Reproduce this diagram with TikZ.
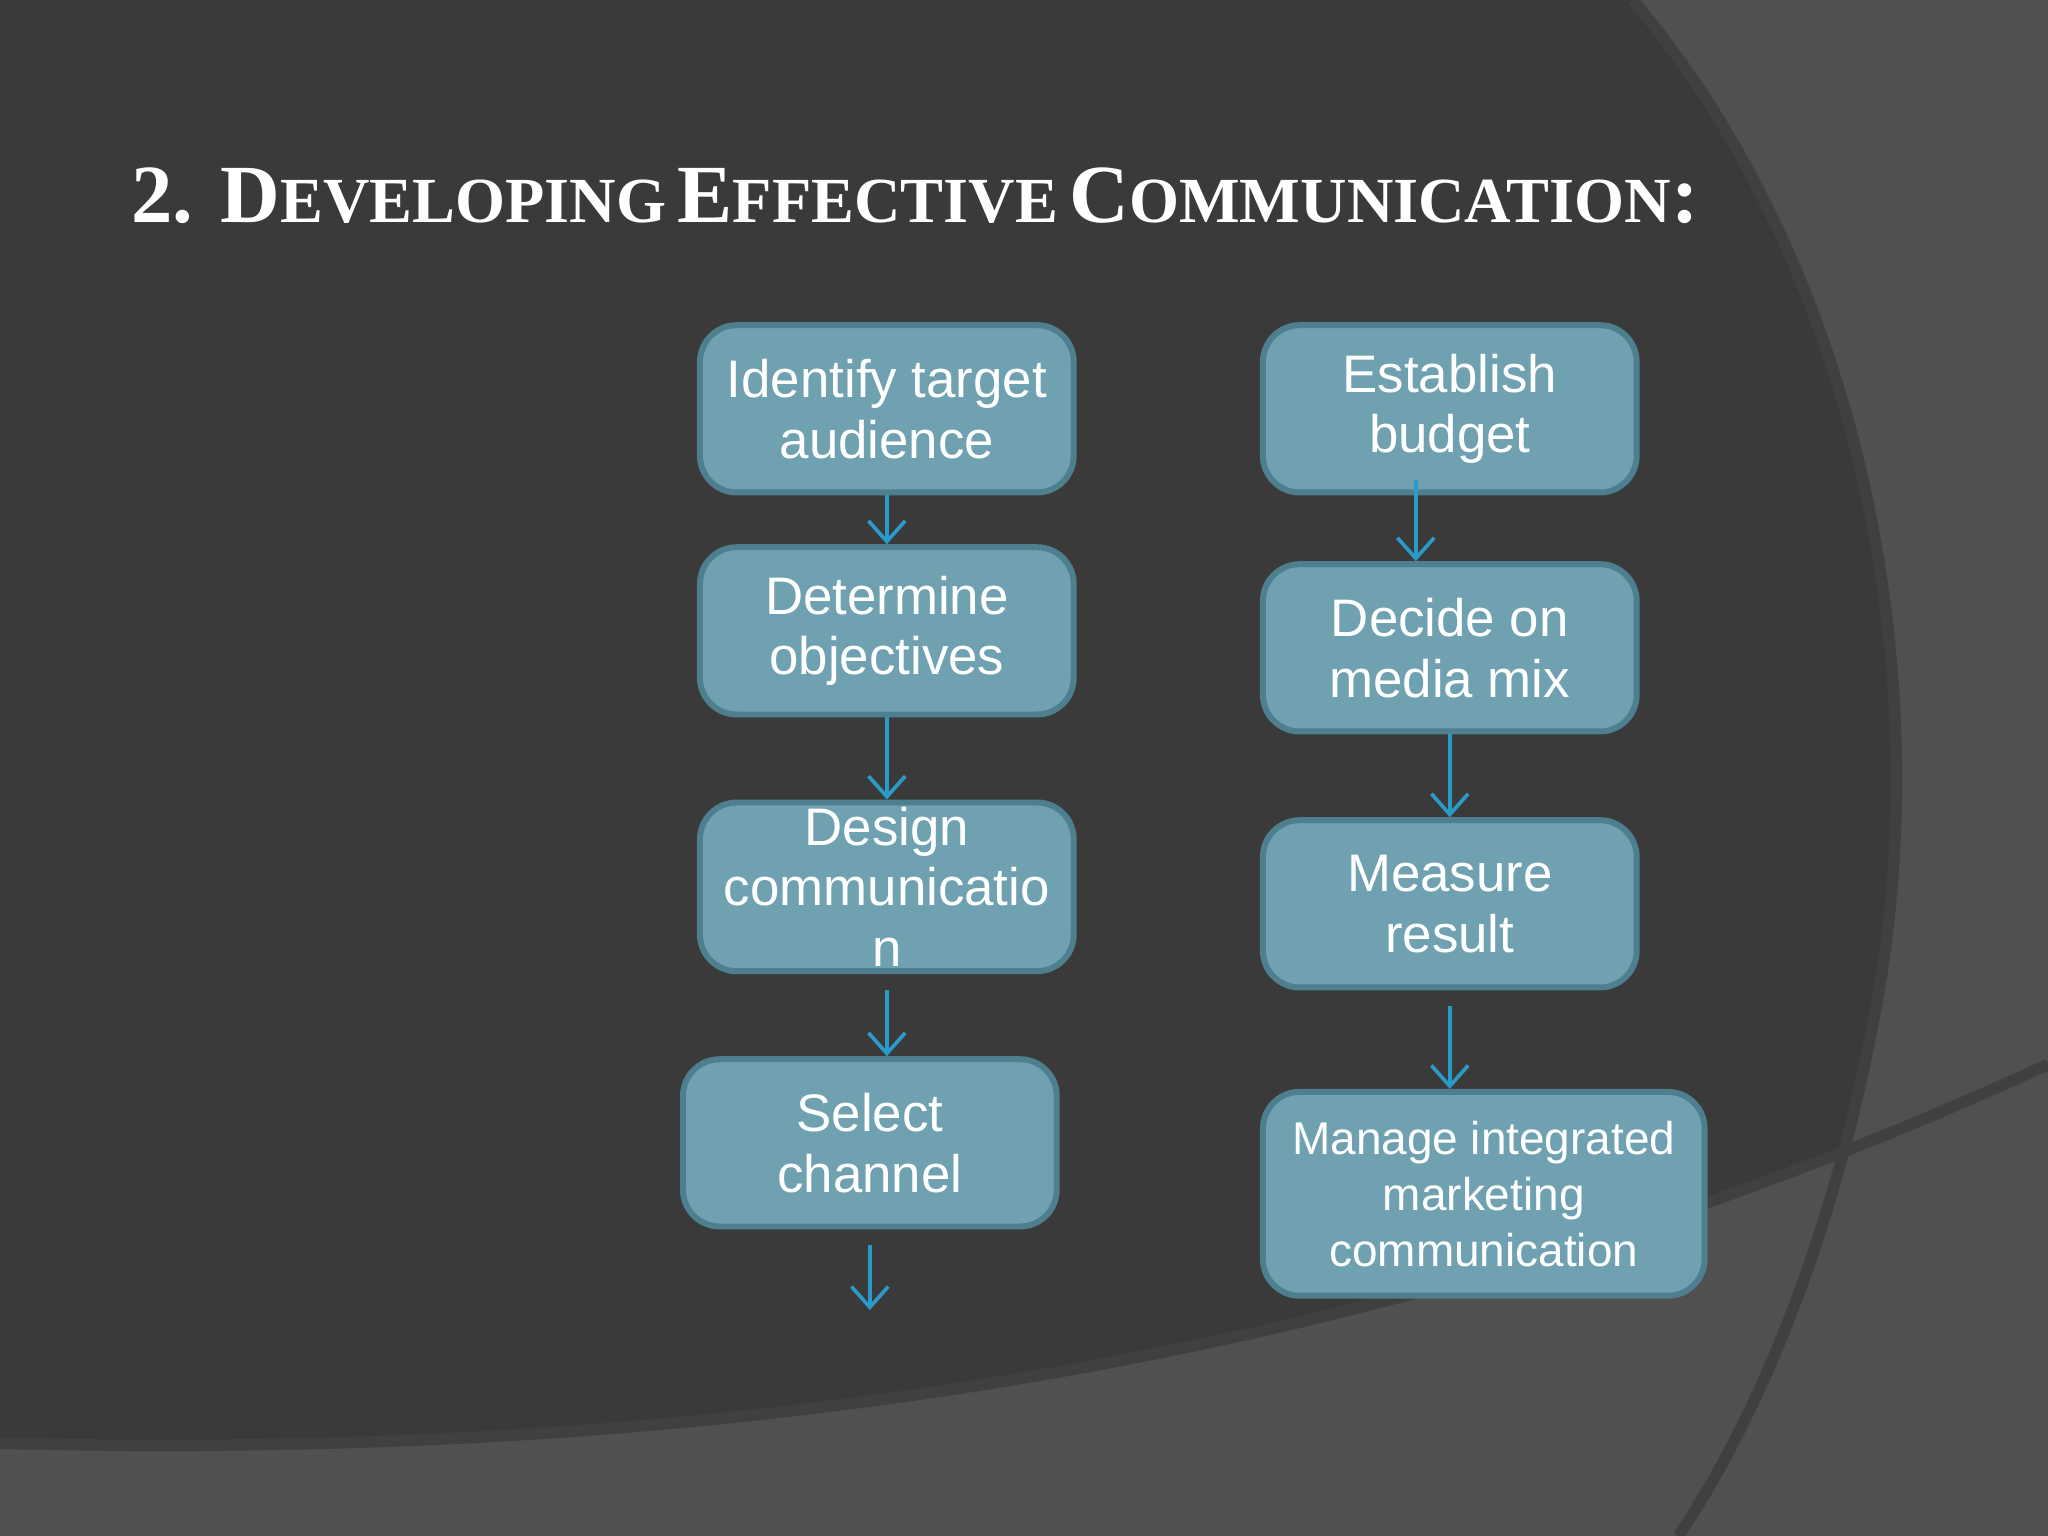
\documentclass[tikz,border=0pt]{standalone}
\usepackage{fontspec}
\setmainfont{Liberation Sans}
\newfontfamily\titlefont{Liberation Serif}
\usetikzlibrary{arrows.meta}
\definecolor{bgdark}{HTML}{3A3A3A}
\definecolor{bglight}{HTML}{505050}
\definecolor{boxfill}{HTML}{6FA1B1}
\definecolor{boxline}{HTML}{4E7F8E}
\definecolor{arr}{HTML}{2A9AC8}
\tikzset{
 stepbox/.style={draw=boxline,line width=1.3pt,fill=boxfill,rounded corners=8pt,
   minimum width=2.86cm,minimum height=1.28cm,align=center,text=white,
   font=\fontsize{11.5}{13.2}\selectfont,inner sep=1pt},
 conn/.style={draw=arr,line width=0.8pt,-{Straight Barb[length=4.5pt,width=8pt]}}
}
\newcommand{\tb}[1]{{\fontsize{18}{21}\selectfont #1}}
\newcommand{\ts}[1]{{\fontsize{14}{17}\selectfont #1}}
\begin{document}
\begin{tikzpicture}[x=0.01cm,y=-0.01cm]
\useasboundingbox (0,0) rectangle (1568,1176);
\fill[bgdark] (0,0) rectangle (1568,1176);
\fill[bglight] (0,1105) .. controls (600,1120) and (1100,1030) .. (1568,815) -- (1568,1176) -- (0,1176) -- cycle;
\fill[bglight] (1250,0) .. controls (1420,200) and (1480,500) .. (1440,750) .. controls (1410,930) and (1350,1080) .. (1285,1176) -- (1568,1176) -- (1568,0) -- cycle;
\draw[black!75,line width=2.5pt] (1250,0) .. controls (1420,200) and (1480,500) .. (1440,750) .. controls (1410,930) and (1350,1080) .. (1285,1176);
\draw[black!75,line width=2.5pt] (0,1105) .. controls (600,1120) and (1100,1030) .. (1568,815);
\node[anchor=west,text=white,font=\titlefont\bfseries] (title) at (88,150)
 {\tb{2. D}\ts{EVELOPING} \tb{E}\ts{FFECTIVE} \tb{C}\ts{OMMUNICATION}\tb{:}};
\node[stepbox] (a1) at (679,313) {Identify target\\audience};
\node[stepbox] (a2) at (679,483) {Determine\\objectives};
\node[stepbox] (a3) at (679,679) {Design\\communicatio\\n};
\node[stepbox] (a4) at (666,875) {Select\\channel};
\node[stepbox] (b1) at (1110,313) {Establish\\budget};
\node[stepbox] (b2) at (1110,496) {Decide on\\media mix};
\node[stepbox] (b3) at (1110,692) {Measure\\result};
\node[stepbox,minimum width=3.38cm,minimum height=1.56cm,font=\fontsize{10}{12.2}\selectfont] (b4) at (1136,914) {Manage integrated\\marketing\\communication};
\coordinate (end) at (666,1003);
\draw[conn] (a1.south) -- (a2.north);
\draw[conn] (a2.south) -- (a3.north);
\draw[conn] ([yshift=-0.12cm]a3.south) -- (a4.north -| a3.south);
\draw[conn] ([yshift=-0.12cm]a4.south) -- (end);
\draw[conn] ([xshift=-0.26cm,yshift=0.12cm]b1.south) -- ([xshift=-0.26cm]b2.north);
\draw[conn] (b2.south) -- (b3.north);
\draw[conn] ([yshift=-0.12cm]b3.south) -- (b4.north -| b3.south);
\end{tikzpicture}
\end{document}
